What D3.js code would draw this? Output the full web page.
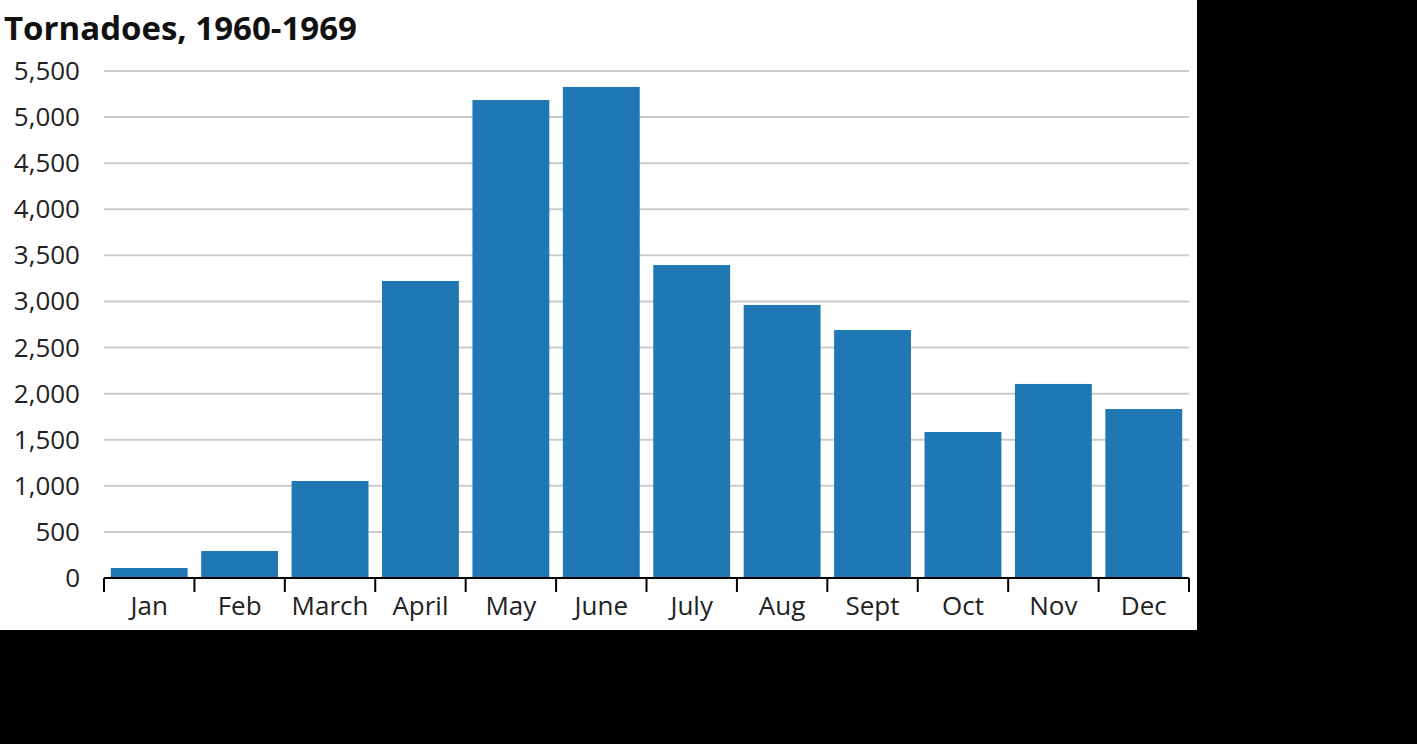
<!DOCTYPE html><html><head><meta charset="utf-8">
<script src="https://cdn.jsdelivr.net/npm/d3@7"></script>
<style>body{margin:0;background:#000}svg{display:block}text{font-family:"Open Sans",sans-serif}</style>
</head><body><svg id="c" width="1417" height="744"></svg>
<script>
const months=["Jan","Feb","March","April","May","June","July","Aug","Sept","Oct","Nov","Dec"];
const tornadoes=[108,293,1052,3222,5185,5327,3395,2962,2690,1584,2105,1833];
const yTicks=[0,500,1000,1500,2000,2500,3000,3500,4000,4500,5000,5500];
const svg=d3.select("#c");
svg.append("rect").attr("width",1197).attr("height",630).attr("fill","#fff");
const L=104,R=1189,T=71,B=578;
const x=d3.scaleBand().domain(months).range([L,R]).paddingInner(0.15).paddingOuter(0.075);
const y=d3.scaleLinear().domain([0,5500]).range([B,T]);
svg.append("text").attr("x",4).attr("y",40).attr("font-size",33).attr("font-weight",700).attr("fill","#111").text("Tornadoes, 1960-1969");
const g=svg.append("g");
g.selectAll("line.g").data(yTicks).join("line").attr("x1",L).attr("x2",R).attr("y1",d=>y(d)).attr("y2",d=>y(d)).attr("stroke","#ccc").attr("stroke-width",2);
g.selectAll("text.y").data(yTicks).join("text").attr("x",80).attr("y",d=>y(d)+9).attr("text-anchor","end").attr("font-size",26).attr("fill","#222").text(d3.format(","));
g.selectAll("rect.b").data(tornadoes).join("rect").attr("x",(d,i)=>x(months[i])).attr("width",x.bandwidth()).attr("y",d=>y(d)).attr("height",d=>B-y(d)).attr("fill","#1f77b4");
const step=(R-L)/12;
const bounds=d3.range(13).map(i=>L+i*step);
g.append("line").attr("x1",L).attr("x2",R).attr("y1",B).attr("y2",B).attr("stroke","#000").attr("stroke-width",2);
g.selectAll("line.t").data(bounds).join("line").attr("x1",d=>d).attr("x2",d=>d).attr("y1",B).attr("y2",592).attr("stroke","#000").attr("stroke-width",2);
g.selectAll("text.x").data(months).join("text").attr("x",d=>x(d)+x.bandwidth()/2).attr("y",615).attr("text-anchor","middle").attr("font-size",26).attr("fill","#222").text(d=>d);
</script></body></html>
